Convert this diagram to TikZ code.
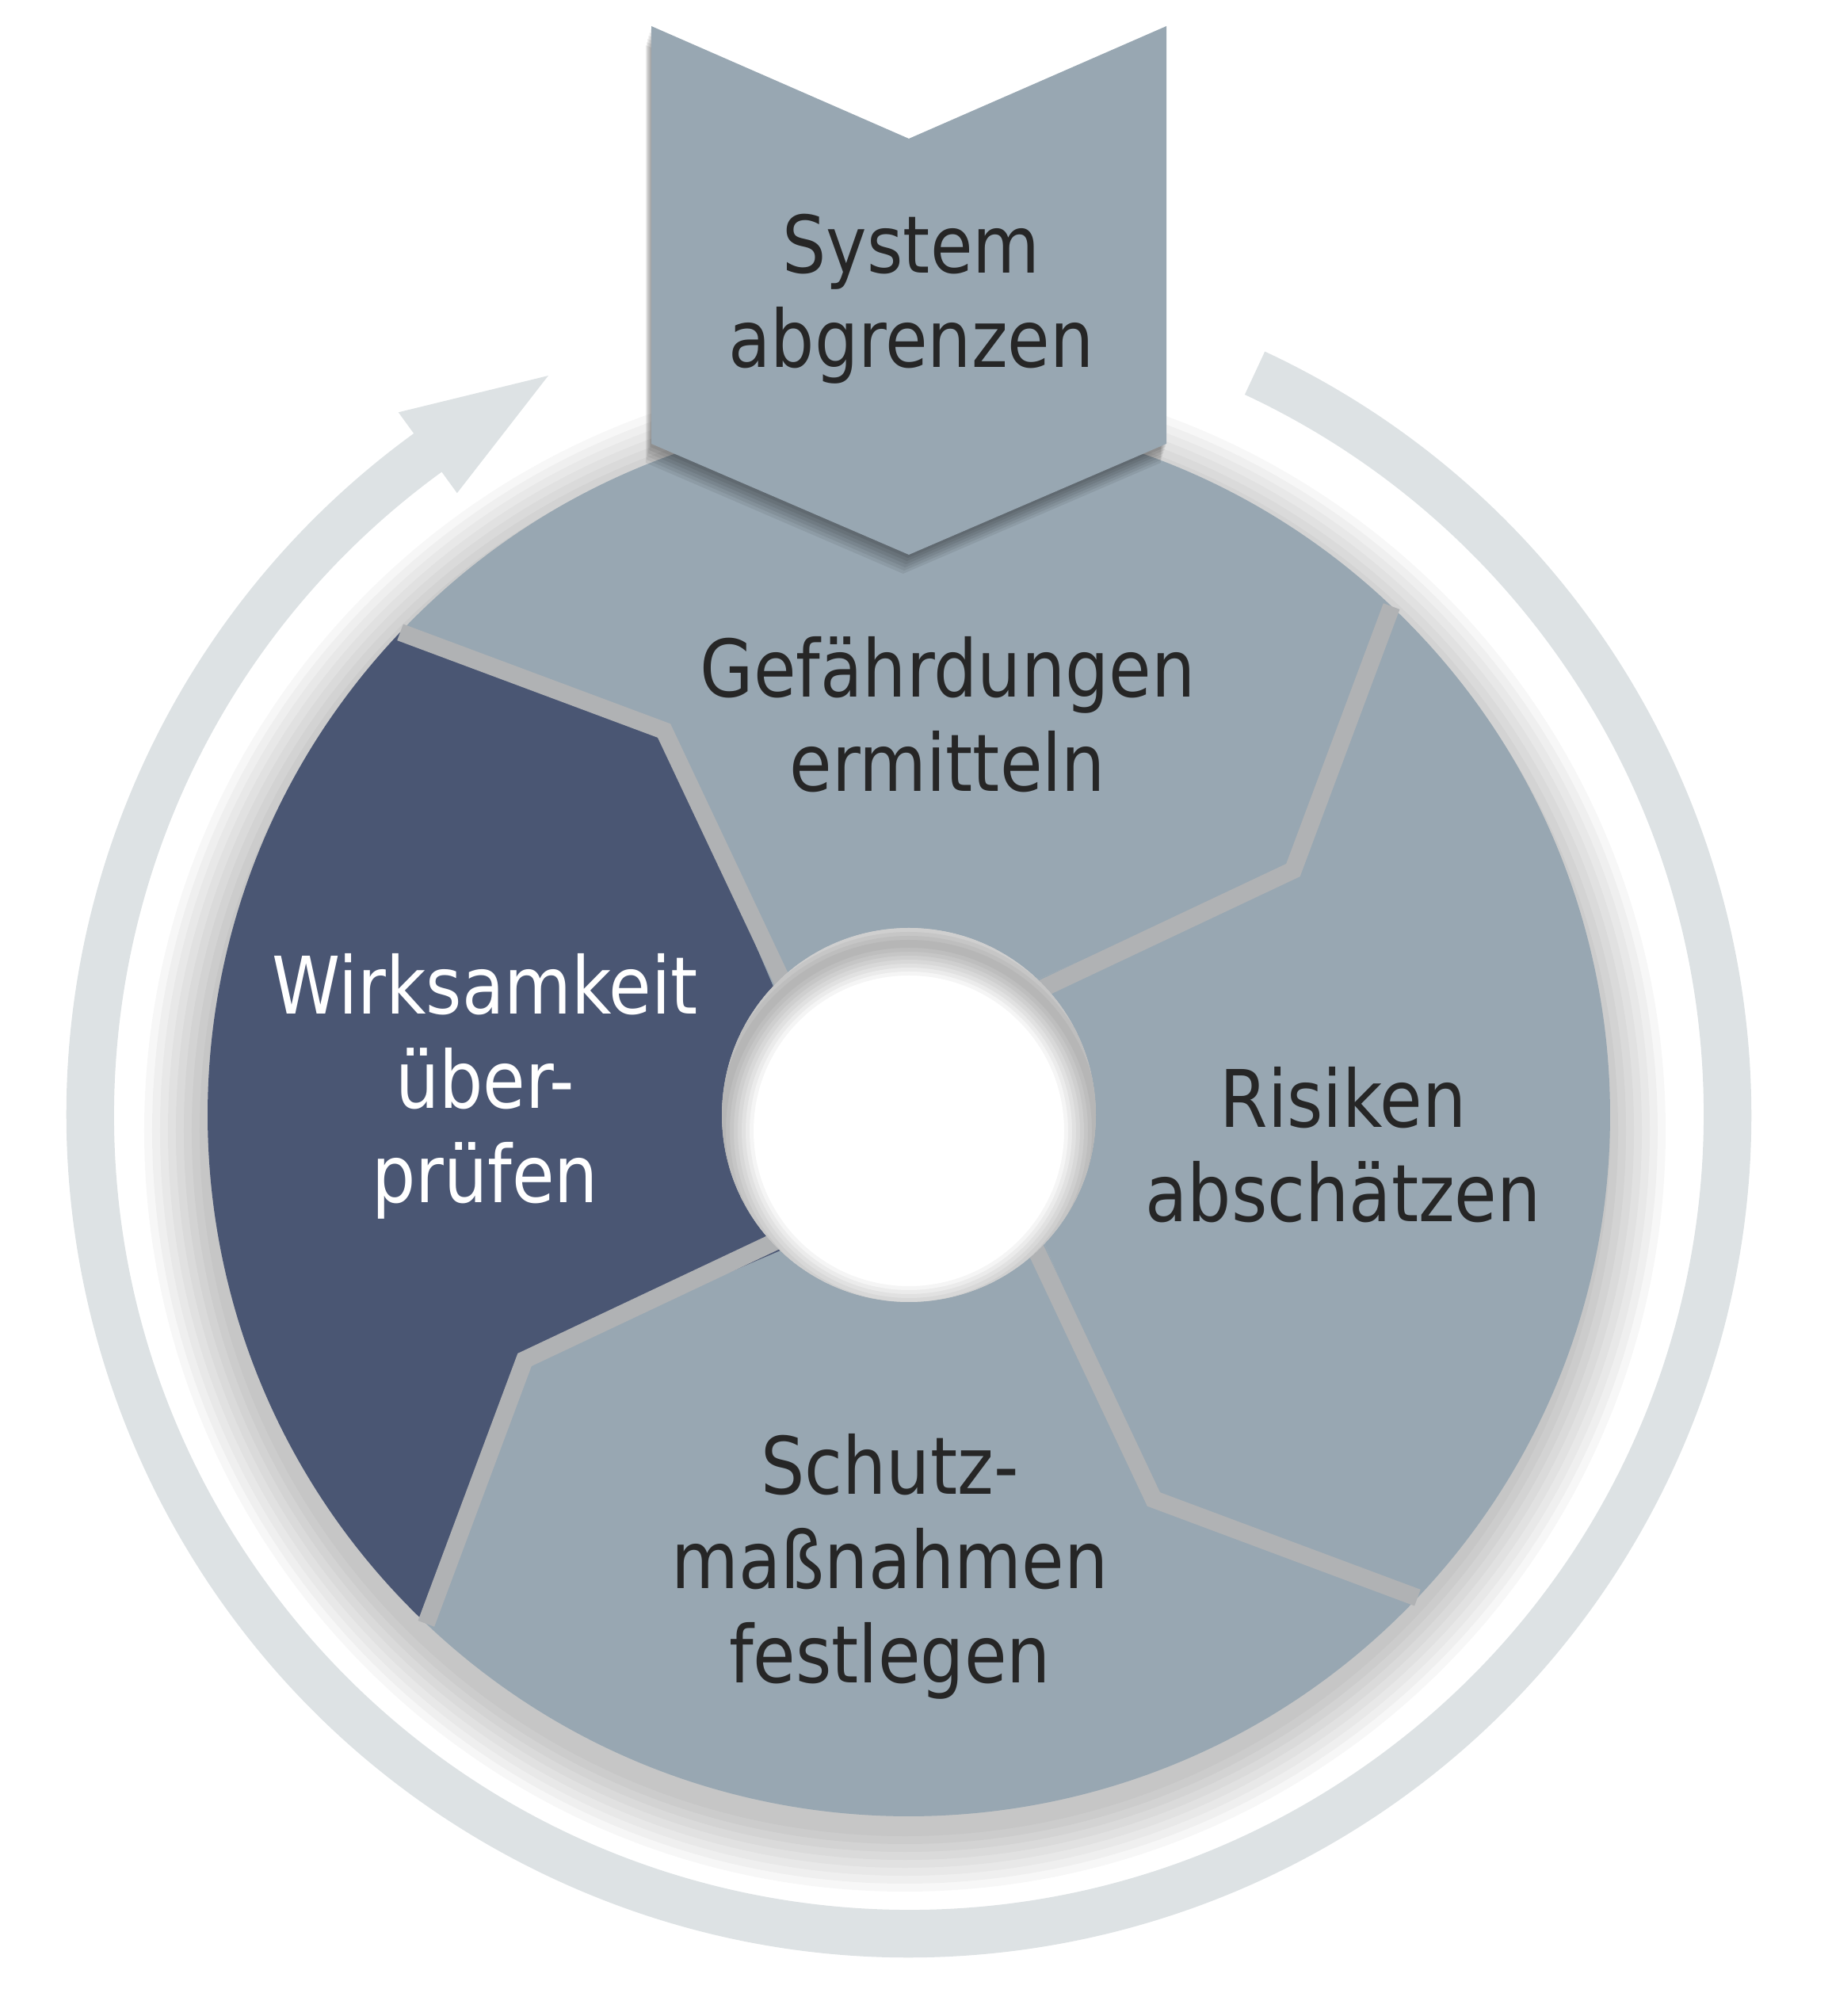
\documentclass[tikz,border=0pt]{standalone}
\usepackage{fontspec}
\setmainfont[FakeStretch=0.87]{DejaVu Sans}
\definecolor{segblue}{HTML}{98A7B2}
\definecolor{segdark}{HTML}{4A5673}
\definecolor{ringgray}{HTML}{DDE2E4}
\definecolor{gapgray}{HTML}{B0B2B4}
\definecolor{textdark}{HTML}{262626}

\begin{document}
\begin{tikzpicture}[
    % Styles
    stage/.style={align=center, font=\fontsize{28.5}{33.9}\selectfont, text=textdark},
    gap/.style={draw=gapgray, line width=0.22cm, line join=miter},
    softshadow/.style={black, opacity=0.03}
]
\useasboundingbox (-11.47,-11.37) rectangle (11.64,14.07);

% --- Outer cycle arrow ---
\fill[ringgray] (65:10.63) arc[start angle=65, end angle=-234, radius=10.63]
    -- (-234:10.96) -- (-244:10.38) -- (-234:9.70) -- (-234:10.03)
    arc[start angle=-234, end angle=65, radius=10.03] -- cycle;

% --- Shadow of the disc ---
\foreach \s in {0.1,0.2,...,0.8}
  \fill[softshadow] (-0.05,-0.2) circle[radius=8.8+\s];

% --- Segments (dark one = Wirksamkeit) ---
\foreach \a/\col in {46.5/segblue, -43.5/segblue, -133.5/segblue, 136.5/segdark}
  \fill[\col] (\a:2.36) -- ({\a-14}:5.75) -- (\a:8.85)
      arc[start angle=\a, end angle=\a+90, radius=8.85]
      -- ({\a+76}:5.75) -- ({\a+90}:2.36)
      arc[start angle=\a+90, end angle=\a, radius=2.36] -- cycle;

% gaps between the segments
\foreach \a in {46.5,-43.5,-133.5,136.5}
  \draw[gap] (\a:2.0) -- ({\a-14}:5.75) -- (\a:8.85);

% --- Hole in the middle ---
\fill[white] (0,0) circle[radius=2.36];
\begin{scope}
  \clip (0,0) circle[radius=2.36];
  \foreach \d in {0.05,0.1,...,0.45}
    \draw[black, opacity=0.04, line width={2*\d*1cm}] (0,-0.2) circle[radius=2.36];
\end{scope}

% --- Chevron on top ---
\def\chevron{(-3.25,13.74) -- (0,12.32) -- (3.25,13.74) -- (3.25,8.47) -- (0,7.07) -- (-3.25,8.47) -- cycle}
\foreach \d in {0.04,0.08,...,0.28}
  \fill[black, opacity=0.07, shift={({-0.3*\d},{-\d})}] \chevron;
\fill[segblue] \chevron;

% --- Labels ---
\node[stage] (system) at (0.03,10.3) {System\\abgrenzen};
\node[stage] (gefahr) at (0.49,5.05) {Gefährdungen\\ermitteln};
\node[stage] (risiko) at (5.48,-0.38) {Risiken\\abschätzen};
\node[stage] (schutz) at (-0.24,-5.7) {Schutz-\\maßnahmen\\festlegen};
\node[stage, text=white] (wirk) at (-5.35,0.36) {Wirksamkeit\\über-\\prüfen};

\end{tikzpicture}
\end{document}
